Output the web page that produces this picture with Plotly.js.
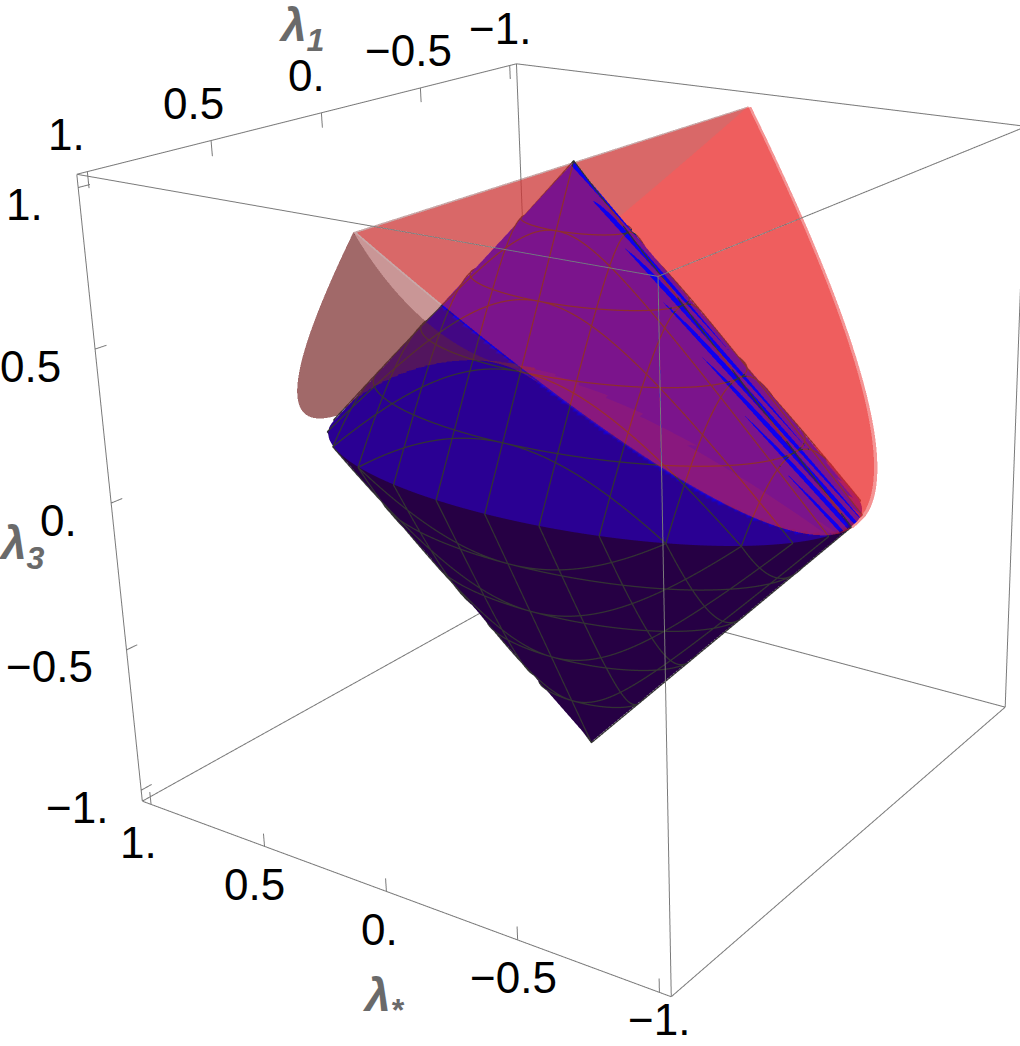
<!DOCTYPE html>
<html><head><meta charset="utf-8">
<script src="https://cdn.plot.ly/plotly-3.0.1.min.js"></script>
<style>
html,body{margin:0;padding:0;overflow:hidden;width:1020px;height:1046px;background:#fff}
#shot,#plot{position:absolute;left:-147px;top:-528px;width:1853px;height:1853px}
#shot{z-index:0}
#plot{z-index:1}
</style>
</head><body><img id="shot" alt=""><div id="plot"></div>
<script>
// ---- axes ----
const axisRange = [-1.04, 1.04];
const tickValues = [-1, -0.5, 0, 0.5, 1];
const tickText = ['\u22121.', '\u22120.5', '0.', '0.5', '1.'];
const titleStar = '<b><i>\u03bb<sub>*</sub></i></b>';
const titleOne = '<b><i>\u03bb<sub>1</sub></i></b>';
const titleThree = '<b><i>\u03bb<sub>3</sub></i></b>';

// ---- blue region: elliptic double cone ----
const blueApexHeights = [1, -1];        // lambda3 of the two apexes
const blueRimAxes = [1, 0.5];           // rim semi-axes along lambda*, lambda1 (at lambda3 = 0)
// ---- red region: |lambda*| <= 1 - lambda3,  lambda1^2 - lambda*^2 <= R^2 lambda3 - (1 - lambda3)^2 ----
const redRidgeHalf = [1];               // R: ridge at lambda3 = 1 spans lambda1 in [-R, R]
const redBaseHalf = [1];                // side faces |lambda*| = base * (1 - lambda3)
// ---- mesh lines on the blue region ----
const meshStar = [-0.8, -0.6, -0.4, -0.2, 0, 0.2, 0.4, 0.6, 0.8];
const meshOne = [-0.4, -0.3, -0.2, -0.1, 0, 0.1, 0.2, 0.3, 0.4];
const meshThree = [-0.8, -0.6, -0.4, -0.2, 0.2, 0.4, 0.6, 0.8];

const RR = redRidgeHalf[0], RB = redBaseHalf[0];
function redW(z){ return RB*(1 - z); }
function redRhs(z){ return RR*RR*z - (1 - z)*(1 - z); }
function redFrontY(x, z){ return Math.sqrt(Math.max(0, x*x + redRhs(z))); }

// camera (plotly scene units); data units are 2.08 times larger
const camera = {eye:{x:-1.978, y:2.605, z:1.230}, center:{x:-0.235, y:-0.201, z:0.093}, up:{x:0, y:0, z:1}, projection:{type:'perspective'}};
const sceneScale = axisRange[1] - axisRange[0];
const eyeData = [camera.eye.x*sceneScale, camera.eye.y*sceneScale, camera.eye.z*sceneScale];
// is a point seen through the red face  lambda* = -(1 - lambda3) ?
function behindRightFace(x, y, z){
  const g = x + RB*(1 - z);
  if (g <= 0) return false;
  const dx = eyeData[0] - x, dy = eyeData[1] - y, dz = eyeData[2] - z;
  const den = dx - RB*dz;
  if (den >= 0) return false;
  const t = -g/den;
  const qy = y + t*dy, qz = z + t*dz;
  return qz >= 0 && qz <= 1 && Math.abs(qy) <= RR*Math.sqrt(qz);
}

const a = blueRimAxes[0], b = blueRimAxes[1];
const flat = {ambient:1, diffuse:0, specular:0, roughness:1, fresnel:0};
const traces = [];
function cone(upper){
  const N = 120, M = 300, X = [], Y = [], Z = [], C = [];
  for (let i = 0; i <= N; i++) {
    const r = i/N;
    const z = upper ? (1 - r)*blueApexHeights[0] : (1 - r)*blueApexHeights[1];
    const rx = [], ry = [], rz = [], rc = [];
    for (let j = 0; j <= M; j++) {
      const p = 2*Math.PI*j/M;
      const x = r*a*Math.cos(p), y = r*b*Math.sin(p);
      rx.push(x); ry.push(y); rz.push(z);
      rc.push(upper && behindRightFace(x, y, z) ? 1 : 0);
    }
    X.push(rx); Y.push(ry); Z.push(rz); C.push(rc);
  }
  return {X, Y, Z, C};
}
const up = cone(true), dn = cone(false);
traces.push({type:'surface', x:up.X, y:up.Y, z:up.Z, surfacecolor:up.C, cmin:0, cmax:1,
  colorscale:[[0,'#2a0093'],[1,'#0c00f0']], showscale:false, lighting:flat, hoverinfo:'skip'});
traces.push({type:'surface', x:dn.X, y:dn.Y, z:dn.Z, surfacecolor:dn.C, cmin:0, cmax:1,
  colorscale:[[0,'#260044'],[1,'#260044']], showscale:false, lighting:flat, hoverinfo:'skip'});

// mesh lines on the blue cone
const mx = [], my = [], mz = [];
const off = 1.004;
function pushPt(x, y, z){ mx.push(x*off); my.push(y*off); mz.push(z*off); }
function brk(){ mx.push(null); my.push(null); mz.push(null); }
function coneZ(rr, upper){ const h = Math.max(0, 1 - rr); return upper ? h*blueApexHeights[0] : h*blueApexHeights[1]; }
meshStar.forEach(c => {
  const ym = b*Math.sqrt(Math.max(0, 1 - (c/a)*(c/a)));
  const K = 80;
  for (let k = 0; k <= K; k++) { const y = -ym + 2*ym*k/K; pushPt(c, y, coneZ(Math.hypot(c/a, y/b), true)); }
  for (let k = K; k >= 0; k--) { const y = -ym + 2*ym*k/K; pushPt(c, y, coneZ(Math.hypot(c/a, y/b), false)); }
  brk();
});
meshOne.forEach(c => {
  const xm = a*Math.sqrt(Math.max(0, 1 - (c/b)*(c/b)));
  const K = 100;
  for (let k = 0; k <= K; k++) { const x = -xm + 2*xm*k/K; pushPt(x, c, coneZ(Math.hypot(x/a, c/b), true)); }
  for (let k = K; k >= 0; k--) { const x = -xm + 2*xm*k/K; pushPt(x, c, coneZ(Math.hypot(x/a, c/b), false)); }
  brk();
});
meshThree.forEach(c => {
  const r = 1 - Math.abs(c);
  for (let k = 0; k <= 120; k++) { const p = 2*Math.PI*k/120; pushPt(r*a*Math.cos(p), r*b*Math.sin(p), c); }
  brk();
});
traces.push({type:'scatter3d', mode:'lines', x:mx, y:my, z:mz, connectgaps:false,
  line:{color:'#333333', width:2.5}, hoverinfo:'skip'});

// bounding box and ticks
const ex = [], ey = [], ez = [];
function seg(p, q){ ex.push(p[0], q[0], null); ey.push(p[1], q[1], null); ez.push(p[2], q[2], null); }
const lo = axisRange[0], hi = axisRange[1];
[lo, hi].forEach(u => [lo, hi].forEach(v => {
  seg([lo, u, v], [hi, u, v]);
  seg([u, lo, v], [u, hi, v]);
  seg([u, v, lo], [u, v, hi]);
}));
tickValues.forEach(v => {
  seg([hi, hi, v], [hi, hi - 0.045, v]);
  seg([hi, v, hi], [hi, v, hi - 0.05]);
  seg([v, hi, lo], [v, hi, lo + 0.045]);
});
const boxTrace = {type:'scatter3d', mode:'lines', x:ex, y:ey, z:ez, connectgaps:false, line:{color:'#7a7a7a', width:2}, hoverinfo:'skip'};
traces.push(boxTrace);

// red region faces: back-facing first
function redFace(kind, s0, s1){
  const X = [], Y = [], Z = [];
  const N = 160, M = 100;
  for (let i = 0; i <= N; i++) {
    const z = i/N;
    const rx = [], ry = [], rz = [];
    for (let j = 0; j <= M; j++) {
      const s = s0 + (s1 - s0)*j/M;
      let x, y;
      if (kind === 'left') { x = redW(z); y = s*RR*Math.sqrt(z); }
      else if (kind === 'right') { x = -redW(z) - 0.012; y = s*RR*Math.sqrt(z); }
      else { x = s*redW(z); y = (kind === 'front' ? 1 : -1)*redFrontY(x, z); }
      rx.push(x); ry.push(y); rz.push(z);
    }
    X.push(rx); Y.push(ry); Z.push(rz);
  }
  return {X, Y, Z};
}
const redFaces = [
  ['left',  -1, 1, '#925050', 0.5],
  ['back',  -1, 1, '#ea2828', 0.5],
  ['front', -1, -0.15, '#cc3030', 0.15],
  ['front', -0.15, 1, '#7a2a2a', 0.5],
  ['right', -1, 1, '#ea2828', 0.5]
];
redFaces.forEach(([kind, s0, s1, col, op]) => {
  const f = redFace(kind, s0, s1);
  const sc = f.Z.map(r => r.map(() => 0));
  traces.push({type:'surface', x:f.X, y:f.Y, z:f.Z, surfacecolor:sc, cmin:0, cmax:1,
    colorscale:[[0,col],[1,col]], showscale:false, opacity:op, lighting:flat, hoverinfo:'skip'});
});

// labels as scene annotations
const tickFont = {family:'Liberation Sans, Arial, sans-serif', size:44, color:'#000'};
const titleFont = {family:'Liberation Sans, Arial, sans-serif', size:46, color:'#6a6a6a'};
const ann = [];
tickValues.forEach((v, k) => {
  ann.push({x:hi, y:hi, z:v, text:tickText[k], showarrow:false, font:tickFont, xanchor:'right', yanchor:'middle', xshift:-15, yshift:-17});
  ann.push({x:hi, y:v, z:hi, text:tickText[k], showarrow:false, font:tickFont, xanchor:'center', yanchor:'middle', xshift:-3, yshift:37});
  ann.push({x:v, y:hi, z:lo, text:tickText[k], showarrow:false, font:tickFont, xanchor:'center', yanchor:'middle', xshift:3, yshift:(v === -1 ? -27 : -38)});
});
ann.push({x:hi, y:0, z:hi, text:titleOne, showarrow:false, font:titleFont, xanchor:'center', yanchor:'middle', xshift:-8, yshift:84});
ann.push({x:hi, y:hi, z:0, text:titleThree, showarrow:false, font:titleFont, xanchor:'center', yanchor:'middle', xshift:-73, yshift:-43});
ann.push({x:0, y:hi, z:lo, text:titleStar, showarrow:false, font:titleFont, xanchor:'center', yanchor:'middle', xshift:7, yshift:-107});

const noAxis = {range:axisRange, autorange:false, showgrid:false, zeroline:false, showline:false, showticklabels:false,
  ticks:'', showbackground:false, showspikes:false, title:{text:''}};
function makeLayout(withText, bg){
  return {
    width:1853, height:1853, autosize:false, margin:{l:0, r:0, t:0, b:0},
    paper_bgcolor:bg, plot_bgcolor:bg, showlegend:false, hovermode:false,
    scene:{
      domain:{x:[0,1], y:[0,1]}, bgcolor:bg,
      xaxis:Object.assign({}, noAxis), yaxis:Object.assign({}, noAxis), zaxis:Object.assign({}, noAxis),
      aspectmode:'manual', aspectratio:{x:1, y:1, z:1},
      camera:camera,
      annotations: withText ? ann : []
    }
  };
}
Plotly.toImage({data:traces, layout:makeLayout(false, '#ffffff')}, {format:'png', width:1853, height:1853})
  .then(url => { document.getElementById('shot').src = url; });
Plotly.newPlot('plot', [boxTrace], makeLayout(true, 'rgba(0,0,0,0)'), {displayModeBar:false, staticPlot:true});
</script>
</body></html>
